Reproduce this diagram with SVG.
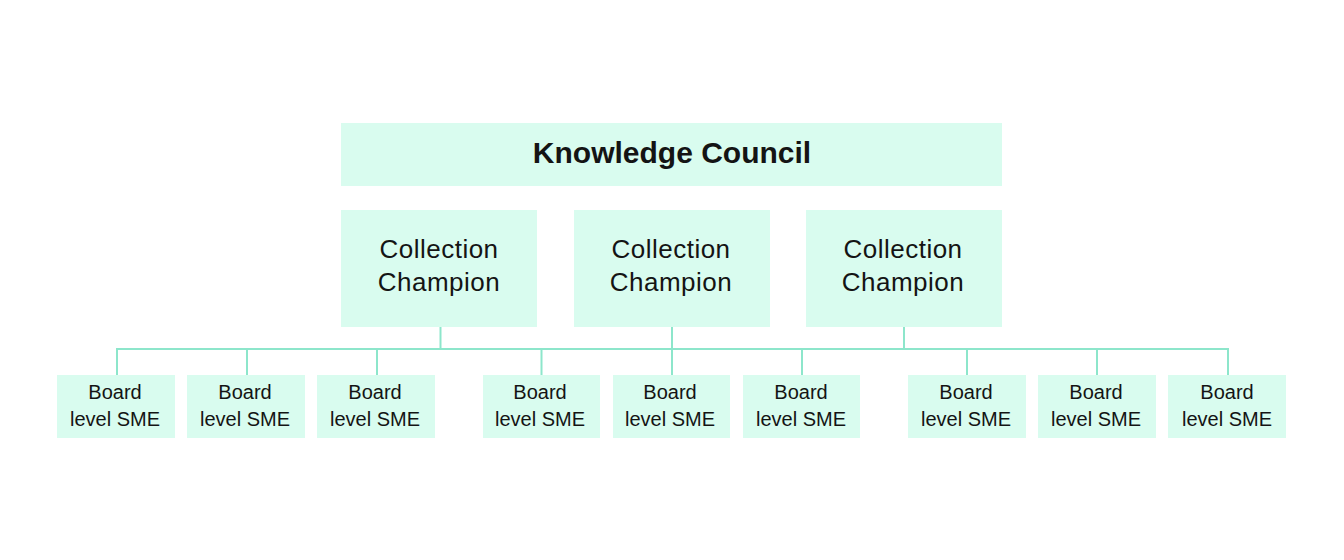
<svg xmlns="http://www.w3.org/2000/svg" width="1344" height="560" viewBox="0 0 1344 560">
<style>
.box{fill:#d9fcef}
.t{font-family:"Liberation Sans",Arial,sans-serif;fill:#141414;text-anchor:middle}
.kc{font-size:30px;font-weight:bold}
.cc{font-size:26px;letter-spacing:0.5px}
.sme{font-size:20px}
.ln{stroke:#8de6cb;stroke-width:2;fill:none}
</style>
<rect width="1344" height="560" fill="#ffffff"/>
<g id="connectors">
<line class="ln" x1="116" y1="349" x2="1229" y2="349"/>
<line class="ln" x1="440.5" y1="327" x2="440.5" y2="349"/>
<line class="ln" x1="672" y1="327" x2="672" y2="349"/>
<line class="ln" x1="904" y1="327" x2="904" y2="349"/>
<line class="ln" x1="117" y1="348" x2="117" y2="375"/>
<line class="ln" x1="247" y1="349" x2="247" y2="375"/>
<line class="ln" x1="377" y1="349" x2="377" y2="375"/>
<line class="ln" x1="541.5" y1="349" x2="541.5" y2="375"/>
<line class="ln" x1="672" y1="349" x2="672" y2="375"/>
<line class="ln" x1="802" y1="349" x2="802" y2="375"/>
<line class="ln" x1="967" y1="349" x2="967" y2="375"/>
<line class="ln" x1="1097" y1="349" x2="1097" y2="375"/>
<line class="ln" x1="1228" y1="348" x2="1228" y2="375"/>
</g>
<g id="knowledge-council">
<rect class="box" x="341" y="123" width="661" height="63"/>
<text class="t kc" x="672" y="163">Knowledge Council</text>
</g>
<g id="champion-1">
<rect class="box" x="341" y="210" width="196" height="117"/>
<text class="t cc" x="439" y="258">Collection</text>
<text class="t cc" x="439" y="291">Champion</text>
</g>
<g id="champion-2">
<rect class="box" x="574" y="210" width="196" height="117"/>
<text class="t cc" x="671" y="258">Collection</text>
<text class="t cc" x="671" y="291">Champion</text>
</g>
<g id="champion-3">
<rect class="box" x="806" y="210" width="196" height="117"/>
<text class="t cc" x="903" y="258">Collection</text>
<text class="t cc" x="903" y="291">Champion</text>
</g>
<g id="sme-1"><rect class="box" x="57" y="375" width="118" height="63"/><text class="t sme" x="115" y="399">Board</text><text class="t sme" x="115" y="426">level SME</text></g>
<g id="sme-2"><rect class="box" x="187" y="375" width="118" height="63"/><text class="t sme" x="245" y="399">Board</text><text class="t sme" x="245" y="426">level SME</text></g>
<g id="sme-3"><rect class="box" x="317" y="375" width="118" height="63"/><text class="t sme" x="375" y="399">Board</text><text class="t sme" x="375" y="426">level SME</text></g>
<g id="sme-4"><rect class="box" x="483" y="375" width="117" height="63"/><text class="t sme" x="540" y="399">Board</text><text class="t sme" x="540" y="426">level SME</text></g>
<g id="sme-5"><rect class="box" x="613" y="375" width="117" height="63"/><text class="t sme" x="670" y="399">Board</text><text class="t sme" x="670" y="426">level SME</text></g>
<g id="sme-6"><rect class="box" x="743" y="375" width="117" height="63"/><text class="t sme" x="801" y="399">Board</text><text class="t sme" x="801" y="426">level SME</text></g>
<g id="sme-7"><rect class="box" x="908" y="375" width="118" height="63"/><text class="t sme" x="966" y="399">Board</text><text class="t sme" x="966" y="426">level SME</text></g>
<g id="sme-8"><rect class="box" x="1038" y="375" width="118" height="63"/><text class="t sme" x="1096" y="399">Board</text><text class="t sme" x="1096" y="426">level SME</text></g>
<g id="sme-9"><rect class="box" x="1168" y="375" width="118" height="63"/><text class="t sme" x="1227" y="399">Board</text><text class="t sme" x="1227" y="426">level SME</text></g>
</svg>
